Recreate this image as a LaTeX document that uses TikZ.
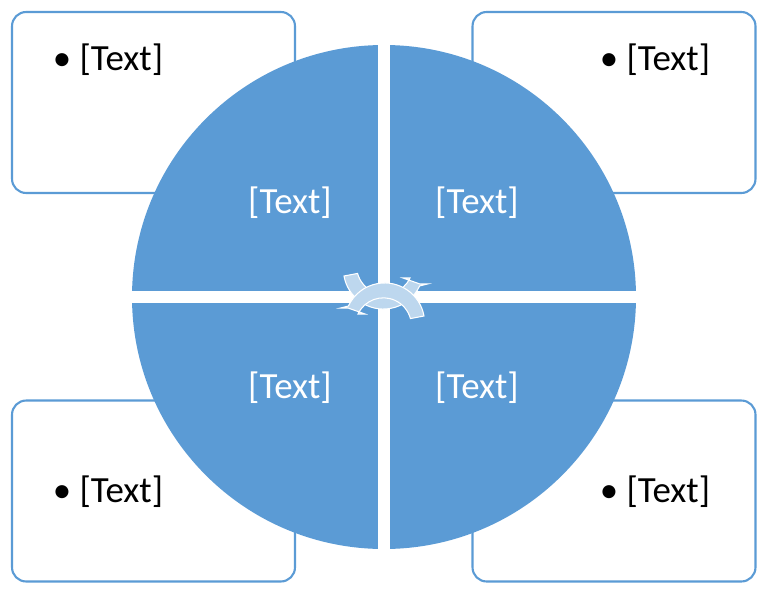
\documentclass[tikz,border=0pt]{standalone}
\usepackage{fontspec}
\setmainfont{Carlito}
\usetikzlibrary{arrows.meta}
\definecolor{quadblue}{RGB}{91,155,213}
\definecolor{arcblue}{RGB}{189,215,238}
\tikzset{
	notebox/.style={draw=quadblue, line width=1.2pt, fill=white, rounded corners=8pt, minimum width=5.66cm, minimum height=3.62cm},
	bullettxt/.style={font=\fontsize{21}{24}\selectfont},
	quadtxt/.style={text=white, font=\fontsize{21}{24}\selectfont},
	turnarrow/.style={draw=white, fill=arcblue, line width=0.6pt}
}
\begin{document}
\begin{tikzpicture}[x=0.02cm, y=-0.02cm]
	\useasboundingbox (0,0) rectangle (768,596);
	
	\def \gap {12}
	
	% side boxes
	\node (BoxTL) at (153.5,102.5) [notebox]{};
	\node (BoxTR) at (614,102.5) [notebox]{};
	\node (BoxBL) at (153.5,491) [notebox]{};
	\node (BoxBR) at (614,491) [notebox]{};
	
	\node (TxtTL) at (108,60) [bullettxt]{• [Text]};
	\node (TxtTR) at (655,60) [bullettxt]{• [Text]};
	\node (TxtBL) at (108,492) [bullettxt]{• [Text]};
	\node (TxtBR) at (655,492) [bullettxt]{• [Text]};
	
	% circle split in four
	\fill[quadblue] (384,297) circle (252);
	\fill[white] (384-\gap/2,40) rectangle (384+\gap/2,555);
	\fill[white] (125,297-\gap/2) rectangle (643,297+\gap/2);
	
	\node (QTL) at (290,203) [quadtxt]{[Text]};
	\node (QTR) at (477,203) [quadtxt]{[Text]};
	\node (QBL) at (290,388) [quadtxt]{[Text]};
	\node (QBR) at (477,388) [quadtxt]{[Text]};
	
	% turning arrows
	\coordinate (Hub) at (384,296);
	\draw[turnarrow] (344,276) arc[start angle=170, end angle=25, radius=40] -- ++(8,-2) -- (420,284) -- ++(-17,-6) -- ++(7,0) arc[start angle=25, end angle=165, radius=28] -- cycle;
	\draw[turnarrow] (424,316) arc[start angle=-10, end angle=-155, radius=40] -- ++(-8,2) -- (348,308) -- ++(17,6) -- ++(-7,0) arc[start angle=-155, end angle=-15, radius=28] -- cycle;
\end{tikzpicture}
\end{document}
